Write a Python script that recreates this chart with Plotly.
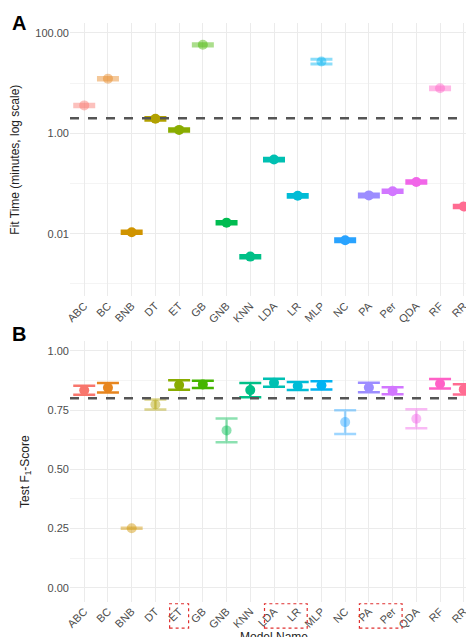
import plotly.graph_objects as go
from plotly.subplots import make_subplots

models = ["ABC", "BC", "BNB", "DT", "ET", "GB", "GNB", "KNN", "LDA", "LR",
          "MLP", "NC", "PA", "Per", "QDA", "RF", "RR"]
colors = ["#F8766D", "#E7851E", "#D09400", "#B2A100", "#89AC00", "#45B500", "#00BC51",
          "#00C087", "#00C0B2", "#00BCD6", "#00B3F2", "#29A3FF", "#9C8DFF", "#D277FF",
          "#F166E8", "#FF61C7", "#FF6C92"]

# panel A: fit time (minutes)
fit_time = [3.6, 12.3, 0.0107, 1.95, 1.17, 58, 0.0166, 0.0035, 0.30, 0.057,
            27, 0.0074, 0.058, 0.07, 0.107, 7.9, 0.035]
fit_err = [0.2, 0.7, 0.0006, 0.12, 0.07, 3, 0.001, 0.0002, 0.018, 0.0035,
           3, 0.0005, 0.004, 0.004, 0.006, 0.5, 0.002]
fit_faded = [True, True, False, False, False, True, False, False, False, False,
             True, False, False, False, False, True, False]
fit_threshold = 2.0

# panel B: test F1
f1 = [0.833, 0.844, 0.251, 0.773, 0.855, 0.858, 0.664, 0.834, 0.865, 0.851,
      0.854, 0.699, 0.845, 0.831, 0.713, 0.861, 0.837]
f1_err = [0.019, 0.02, 0.002, 0.021, 0.02, 0.015, 0.05, 0.03, 0.017, 0.017,
          0.017, 0.05, 0.02, 0.015, 0.04, 0.02, 0.022]
f1_faded = [False, False, True, True, False, False, True, False, False, False,
            False, True, False, False, True, False, False]
f1_threshold = 0.80

# highlighted tick label groups (first, last model)
boxes = [("ET", "ET"), ("LDA", "LR"), ("PA", "Per")]


def rgba(h, a):
    h = h.lstrip("#")
    return "rgba(%d,%d,%d,%s)" % (int(h[0:2], 16), int(h[2:4], 16), int(h[4:6], 16), a)


fig = make_subplots(rows=2, cols=1)
for i, m in enumerate(models):
    a = 0.45 if fit_faded[i] else 1
    fig.add_trace(go.Scatter(
        x=[m], y=[fit_time[i]], mode="markers",
        marker={"size": 10, "color": rgba(colors[i], a)},
        error_y={"type": "data", "array": [fit_err[i]], "color": rgba(colors[i], a),
                 "thickness": 3, "width": 11},
        showlegend=False), row=1, col=1)
    a = 0.45 if f1_faded[i] else 1
    fig.add_trace(go.Scatter(
        x=[m], y=[f1[i]], mode="markers",
        marker={"size": 10, "color": rgba(colors[i], a)},
        error_y={"type": "data", "array": [f1_err[i]], "color": rgba(colors[i], a),
                 "thickness": 2.5, "width": 11},
        showlegend=False), row=2, col=1)

dash = {"color": "#555555", "width": 2.5, "dash": "dash"}
fig.add_shape(type="line", xref="x domain", yref="y", x0=0, x1=1,
              y0=fit_threshold, y1=fit_threshold, line=dash)
fig.add_shape(type="line", xref="x2 domain", yref="y2", x0=0, x1=1,
              y0=f1_threshold, y1=f1_threshold, line=dash)

for first, last in boxes:
    i0, i1 = models.index(first), models.index(last)
    fig.add_shape(type="rect", xref="x2", yref="paper", x0=i0 - 0.4, x1=i1 + 0.4,
                  y0=-0.045, y1=-0.003, line={"color": "#E03030", "width": 1.2, "dash": "dot"})

grid = "#ebebeb"
axis_common = {"showgrid": True, "gridcolor": grid, "zeroline": False, "showline": False,
               "tickfont": {"size": 11, "color": "#4d4d4d"}, "ticks": ""}
fig.update_xaxes(**axis_common, tickangle=-45, range=[-0.6, 16.6])
fig.update_layout(
    width=474, height=637, paper_bgcolor="white", plot_bgcolor="white",
    font={"family": "Liberation Sans", "color": "#222222"},
    margin={"l": 60, "r": 4, "t": 12, "b": 40},
    yaxis={**axis_common, "domain": [0.525, 0.995], "type": "log", "range": [-3.25, 2.2],
           "tickvals": [100, 1, 0.01], "ticktext": ["100.00", "1.00", "0.01"],
           "minor": {"tickvals": [10, 0.1, 0.001], "showgrid": True, "gridcolor": "#f4f4f4"},
           "title": {"text": "Fit Time (minutes, log scale)", "font": {"size": 12}}},
    xaxis={"anchor": "y"},
    yaxis2={**axis_common, "domain": [0, 0.448], "range": [-0.06, 1.04],
            "tickvals": [0, 0.25, 0.5, 0.75, 1.0],
            "ticktext": ["0.00", "0.25", "0.50", "0.75", "1.00"],
            "minor": {"tickvals": [0.125, 0.375, 0.625, 0.875], "showgrid": True,
                      "gridcolor": "#f4f4f4"},
            "title": {"text": "Test F<sub>1</sub>-Score", "font": {"size": 12}}},
    xaxis2={"anchor": "y2", "title": {"text": "Model Name", "font": {"size": 12},
                                       "standoff": 2}},
    annotations=[
        {"text": "<b>A</b>", "x": 0, "y": 1.018, "xref": "paper", "yref": "paper",
         "xanchor": "left", "yanchor": "top", "showarrow": False, "font": {"size": 20, "color": "black"},
         "xshift": -60},
        {"text": "<b>B</b>", "x": 0, "y": 0.482, "xref": "paper", "yref": "paper",
         "xanchor": "left", "yanchor": "top", "showarrow": False, "font": {"size": 20, "color": "black"},
         "xshift": -60},
    ],
)
fig.write_html("out.html")
